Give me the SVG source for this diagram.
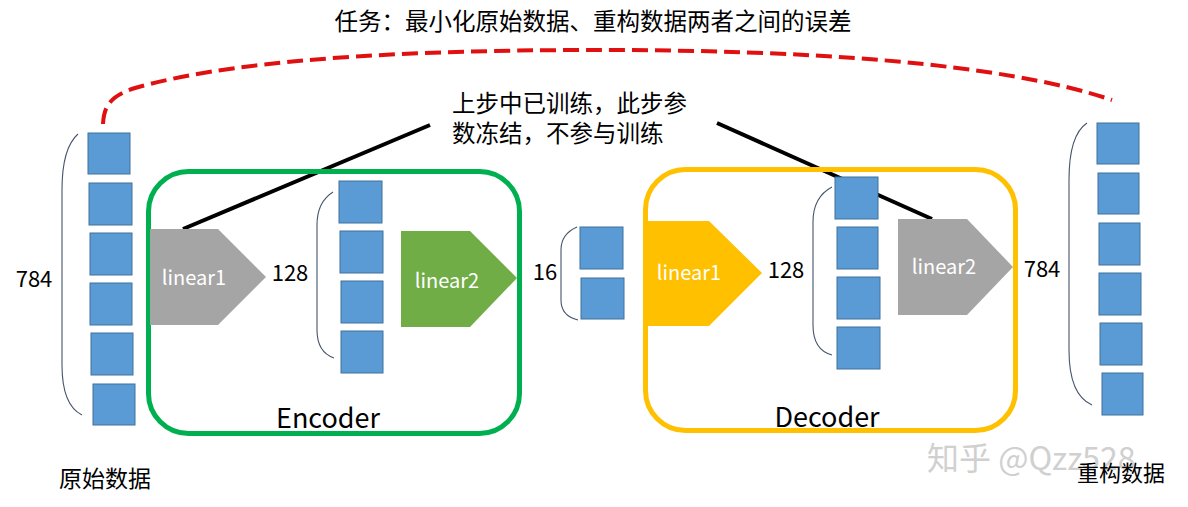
<svg xmlns="http://www.w3.org/2000/svg" width="1188" height="507" viewBox="0 0 1188 507">
<defs>
<style>
.sq{fill:#5B9BD5;stroke:#41719C;stroke-width:1}
.br{fill:none;stroke:#44546A;stroke-width:1.1}
.t{font-family:"Noto Sans CJK SC","Noto Sans",sans-serif;fill:#000}
.num{font-size:22px;text-anchor:middle}
.lin{font-family:"Noto Sans CJK SC","Noto Sans",sans-serif;font-size:20px;fill:#fff;text-anchor:middle}
.box{fill:none;stroke-width:5}
.ptr{stroke:#000;stroke-width:4;fill:none}
</style>
</defs>
<rect width="1188" height="507" fill="#fff"/>

<g id="title"><text class="t" x="593" y="30" font-size="23.5" text-anchor="middle">任务：最小化原始数据、重构数据两者之间的误差</text></g>

<g id="connectors">
<path d="M103,124 C104,106 110,96 135,88 C250,55 450,50 600,50 C800,50 1000,62 1112,100" fill="none" stroke="#E01010" stroke-width="4" stroke-dasharray="16 7"/>
<line class="ptr" x1="183" y1="229" x2="430" y2="125"/>
<line class="ptr" x1="717" y1="123" x2="932" y2="219"/>
</g>

<g id="note">
<text class="t" x="452" y="112" font-size="23.5">上步中已训练，此步参</text>
<text class="t" x="452" y="142" font-size="23.5">数冻结，不参与训练</text>
</g>

<g id="input">
<path class="br" d="M78,134 Q62,148 62,190 L62,365 Q62,405 82,415"/>
<rect class="sq" x="88" y="133" width="42" height="41"/>
<rect class="sq" x="89" y="183" width="43" height="42"/>
<rect class="sq" x="90" y="233" width="42" height="42"/>
<rect class="sq" x="90" y="283" width="42" height="42"/>
<rect class="sq" x="91" y="333" width="42" height="42"/>
<rect class="sq" x="93" y="384" width="42" height="41"/>
<text class="t num" x="34" y="287">784</text>
<text class="t" x="59" y="487" font-size="23">原始数据</text>
</g>

<g id="encoder">
<rect class="box" x="148.5" y="171.5" width="371" height="262" rx="40" stroke="#00B050"/>
<text class="t" x="328" y="428" font-size="27" text-anchor="middle">Encoder</text>
</g>

<g id="enc-linear1">
<polygon points="150,229 218,229 266,277 218,325 150,325" fill="#A5A5A5"/>
<text class="lin" x="194" y="285">linear1</text>
</g>

<g id="hidden-enc">
<text class="t num" x="290" y="281">128</text>
<path class="br" d="M333,192 Q317,202 317,225 L317,330 Q317,352 334,358"/>
<rect class="sq" x="339" y="181" width="43" height="42"/>
<rect class="sq" x="340" y="231" width="43" height="42"/>
<rect class="sq" x="341" y="281" width="42" height="42"/>
<rect class="sq" x="341" y="331" width="42" height="42"/>
</g>

<g id="enc-linear2">
<polygon points="401,231 470,231 517,278 470,327 401,327" fill="#70AD47"/>
<text class="lin" x="447" y="288">linear2</text>
</g>

<g id="code">
<text class="t num" x="545" y="280">16</text>
<path class="br" d="M577,227 Q561,234 561,250 L561,300 Q561,316 578,320"/>
<rect class="sq" x="580" y="227" width="43" height="42"/>
<rect class="sq" x="581" y="278" width="43" height="41"/>
</g>

<g id="decoder">
<rect class="box" x="645.5" y="169.5" width="370" height="261" rx="40" stroke="#FFC000"/>
<text class="t" x="827" y="427" font-size="27" text-anchor="middle">Decoder</text>
</g>

<g id="dec-linear1">
<polygon points="647,221 709,221 762,273 709,326 647,326" fill="#FFC000"/>
<text class="lin" x="689" y="280">linear1</text>
</g>

<g id="hidden-dec">
<text class="t num" x="786" y="278">128</text>
<path class="br" d="M832,187 Q813,197 813,222 L813,325 Q813,350 832,355"/>
<rect class="sq" x="835" y="177" width="43" height="42"/>
<rect class="sq" x="837" y="227" width="41" height="42"/>
<rect class="sq" x="837" y="277" width="43" height="42"/>
<rect class="sq" x="837" y="327" width="43" height="42"/>
</g>

<g id="dec-linear2">
<polygon points="898,219 967,219 1013,267 967,315 898,315" fill="#A5A5A5"/>
<text class="lin" x="944" y="274">linear2</text>
</g>

<g id="output">
<text class="t num" x="1042" y="277">784</text>
<path class="br" d="M1087,123 Q1069,135 1069,180 L1069,350 Q1069,395 1092,405"/>
<rect class="sq" x="1097" y="123" width="42" height="41"/>
<rect class="sq" x="1098" y="173" width="41" height="41"/>
<rect class="sq" x="1099" y="223" width="41" height="42"/>
<rect class="sq" x="1099" y="273" width="42" height="42"/>
<rect class="sq" x="1100" y="323" width="42" height="42"/>
<rect class="sq" x="1102" y="373" width="41" height="42"/>
</g>

<g id="watermark">
<text x="927" y="470" font-family="Noto Sans CJK SC,sans-serif" font-size="32" fill="#d0d0d0">知乎 @Qzz528</text>
</g>
<g id="output-label">
<text class="t" x="1077" y="481" font-size="22">重构数据</text>
</g>
</svg>
